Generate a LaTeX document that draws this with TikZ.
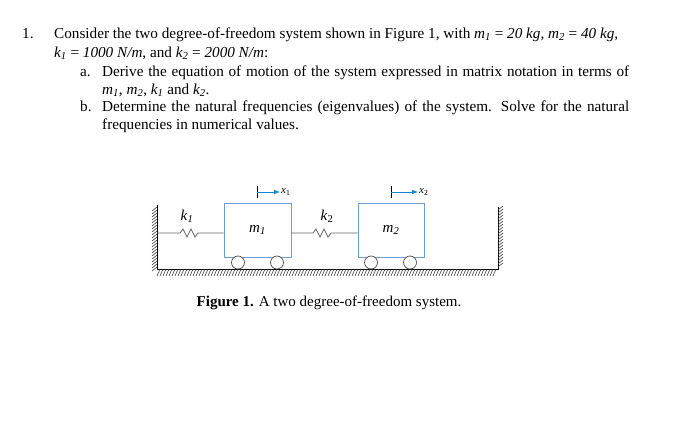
\documentclass[tikz,border=0pt]{standalone}
\usepackage{fontspec}
\setmainfont{Liberation Serif}
\newcommand{\ms}[2]{\textit{#1\textsubscript{#2}}}
\begin{document}
\begin{tikzpicture}[x=1pt,y=-1pt,
  txt/.style={anchor=base west,inner sep=0pt,font=\fontsize{15.2}{18.5}\selectfont},
  massbox/.style={draw=cyan!55!blue!60,line width=0.9pt,fill=white},
  gray line/.style={draw=black!60,line width=0.8pt},
  wheel/.style={draw=black!70,line width=0.7pt,fill=white},
  dispar/.style={-latex,draw=cyan!70!blue,line width=1pt},
  hatch/.style={draw=black!75,line width=0.6pt}]
\useasboundingbox (0,0) rectangle (700,436);
% text
\node[txt] (n1) at (22,38) {1.};
\node[txt] (l1) at (54,38) {Consider the two degree-of-freedom system shown in Figure 1, with \ms{m}{1} = \textit{20 kg}, \ms{m}{2} = \textit{40 kg},};
\node[txt] (l2) at (54,57) {\ms{k}{1} = \textit{1000 N/m}, and \ms{k}{2} = \textit{2000 N/m}:};
\node[txt] (na) at (80,76) {a.};
\node[txt,text width=527pt,align=justify] (la) at (102,76) {Derive the equation of motion of the system expressed in matrix notation in terms of \ms{m}{1}, \ms{m}{2}, \ms{k}{1} and \ms{k}{2}.};
\node[txt] (nb) at (80,111) {b.};
\node[txt,text width=527pt,align=justify] (lb) at (102,111) {Determine the natural frequencies (eigenvalues) of the system. Solve for the natural frequencies in numerical values.};
% walls and floor
\coordinate (wl) at (157,205); \coordinate (fl) at (157,269);
\coordinate (wr) at (498,207); \coordinate (fr) at (498,269);
\draw[line width=1pt] (wl) -- (fl) -- (fr) -- (wr);
\foreach \y in {207,210,...,267} \draw[hatch] (157,\y) -- (152,\y+4);
\foreach \y in {210,213,...,267} \draw[hatch] (498,\y) -- (503,\y-4);
\foreach \x in {160,163,...,497} \draw[hatch] (\x,269) -- (\x-3,276);
% masses
\node[massbox,minimum width=67pt,minimum height=54pt,inner sep=0pt] (m1) at (257.5,230) {\fontsize{15}{15}\selectfont\textit{m\textsubscript{1}}};
\node[massbox,minimum width=66pt,minimum height=54pt,inner sep=0pt] (m2) at (391,230) {\fontsize{15}{15}\selectfont\textit{m\textsubscript{2}}};
% wheels
\foreach \x/\n in {238/a,277/b,371/c,410/d} \draw[wheel] (\x,262.5) circle (6.5);
% springs
\draw[gray line] (157,233) -- (180,233) -- (183,229) -- (187,237) -- (191,229) -- (195,237) -- (198,233) -- (m1.west |- 0,233);
\draw[gray line] (m1.east |- 0,233) -- (313,233) -- (316,229) -- (320,237) -- (324,229) -- (328,237) -- (331,233) -- (m2.west |- 0,233);
\node[font=\fontsize{15}{15}\selectfont] (k1) at (187,216) {\textit{k}\textsubscript{\textit{1}}};
\node[font=\fontsize{15}{15}\selectfont] (k2) at (327,216) {\textit{k}\textsubscript{2}};
% displacement arrows
\coordinate (a1) at (257,192); \coordinate (b1) at (280,192);
\draw[line width=0.8pt] (257,186) -- (257,198);
\draw[dispar] (a1) -- (b1);
\node[anchor=west,inner sep=1pt,font=\fontsize{11}{11}\selectfont] (x1) at (b1) {\textit{x}\textsubscript{1}};
\coordinate (a2) at (391,192); \coordinate (b2) at (418,192);
\draw[line width=0.8pt] (391,186) -- (391,198);
\draw[dispar] (a2) -- (b2);
\node[anchor=west,inner sep=1pt,font=\fontsize{11}{11}\selectfont] (x2) at (b2) {\textit{x}\textsubscript{2}};
% caption
\node[anchor=base,inner sep=0pt,font=\fontsize{15}{15}\selectfont] (cap) at (329,306) {\textbf{Figure 1.} A two degree-of-freedom system.};
\end{tikzpicture}
\end{document}
